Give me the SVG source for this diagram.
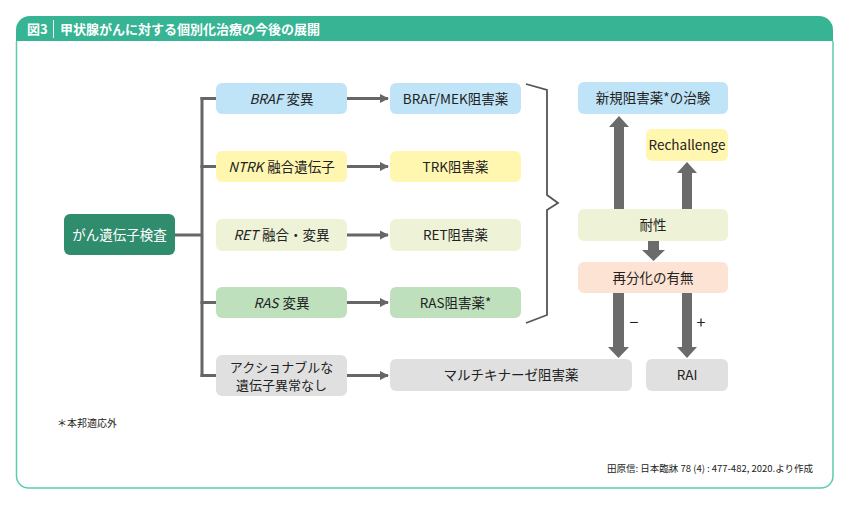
<svg xmlns="http://www.w3.org/2000/svg" width="850" height="505" viewBox="0 0 850 505">
<defs>
<style>
text{font-family:"Noto Sans CJK JP","Noto Sans",sans-serif;font-size:13.5px;fill:#222;}
.c{text-anchor:middle;}
.it{font-style:italic;}
.ln{stroke:#666;stroke-width:3;fill:none;}
.blk{fill:#6b6b6b;}
.sign{font-size:16px;}
</style>
<marker id="ah" viewBox="0 0 10 10" refX="9" refY="5" markerWidth="3" markerHeight="3.2" orient="auto" markerUnits="strokeWidth">
<path d="M0,0 L10,5 L0,10 z" fill="#666"/>
</marker>
</defs>
<rect width="850" height="505" fill="#fff"/>
<g id="frame">
<path d="M16.5,41 V476 A12,12 0 0 0 28.5,488 H821 A12,12 0 0 0 833,476 V41" fill="none" stroke="#5ccbb0" stroke-width="1.5"/>
<path d="M16,41 V30 A14,14 0 0 1 30,16 H819 A14,14 0 0 1 833,30 V41 Z" fill="#36b494"/>
<line x1="53.5" y1="20" x2="53.5" y2="38" stroke="#e8f7f2" stroke-width="1"/>
<text x="27" y="34" style="fill:#fff;font-weight:bold;font-size:13px">図3</text>
<text x="60" y="34" style="fill:#fff;font-weight:bold;font-size:13px">甲状腺がんに対する個別化治療の今後の展開</text>
</g>
<g id="connectors">
<line class="ln" x1="175" y1="235" x2="202" y2="235"/>
<line class="ln" x1="202" y1="97" x2="202" y2="377"/>
<line class="ln" x1="200.5" y1="98.5" x2="216" y2="98.5"/>
<line class="ln" x1="200.5" y1="166.5" x2="216" y2="166.5"/>
<line class="ln" x1="200.5" y1="302.5" x2="216" y2="302.5"/>
<line class="ln" x1="200.5" y1="375.5" x2="216" y2="375.5"/>
<line class="ln" x1="347" y1="98.5" x2="388" y2="98.5" marker-end="url(#ah)"/>
<line class="ln" x1="347" y1="166.5" x2="388" y2="166.5" marker-end="url(#ah)"/>
<line class="ln" x1="347" y1="235" x2="388" y2="235" marker-end="url(#ah)"/>
<line class="ln" x1="347" y1="302.5" x2="388" y2="302.5" marker-end="url(#ah)"/>
<line class="ln" x1="347" y1="375.5" x2="388" y2="375.5" marker-end="url(#ah)"/>
<path d="M526,84 L547,90 V195 L558,203 L547,210 V315 L526,323" fill="none" stroke="#555" stroke-width="1.8"/>
<path class="blk" d="M614,209 V127 H609 L619,116 L629,127 H624 V209 Z"/>
<path class="blk" d="M682,209 V173 H677 L687,162 L697,173 H692 V209 Z"/>
<path class="blk" d="M648,241 V250 H642 L653.5,261 L665,250 H659 V241 Z"/>
<path class="blk" d="M613,293 V347 H608 L618.5,358 L629,347 H624 V293 Z"/>
<path class="blk" d="M682,293 V347 H677 L687,358 L697,347 H692 V293 Z"/>
<text x="634" y="328" class="c sign">−</text>
<text x="701" y="328" class="c sign">+</text>
</g>
<g id="test">
<rect x="64" y="214" width="111" height="41" rx="6" fill="#2f8c6c"/>
<text x="119.5" y="239.5" class="c" style="fill:#fff">がん遺伝子検査</text>
</g>
<g id="braf">
<rect x="216" y="83" width="131" height="31" rx="6" fill="#bfe3f7"/>
<text x="281.5" y="103.5" class="c"><tspan class="it">BRAF</tspan><tspan dx="4">変異</tspan></text>
</g>
<g id="ntrk">
<rect x="216" y="151" width="131" height="31" rx="6" fill="#fff6b0"/>
<text x="281.5" y="171.5" class="c"><tspan class="it">NTRK</tspan><tspan dx="4">融合遺伝子</tspan></text>
</g>
<g id="ret">
<rect x="216" y="219" width="131" height="32" rx="6" fill="#eef3d8"/>
<text x="281.5" y="240" class="c"><tspan class="it">RET</tspan><tspan dx="4">融合・変異</tspan></text>
</g>
<g id="ras">
<rect x="216" y="287" width="131" height="31" rx="6" fill="#bfe0bd"/>
<text x="281.5" y="307.5" class="c"><tspan class="it">RAS</tspan><tspan dx="4">変異</tspan></text>
</g>
<g id="noact">
<rect x="216" y="355" width="131" height="41" rx="6" fill="#e0e0e0"/>
<text x="281.5" y="371.5" class="c" style="font-size:13px">アクショナブルな</text>
<text x="281.5" y="389.5" class="c" style="font-size:13px">遺伝子異常なし</text>
</g>
<g id="brafmek">
<rect x="390" y="83" width="131" height="31" rx="6" fill="#bfe3f7"/>
<text x="455.5" y="103.5" class="c">BRAF/MEK阻害薬</text>
</g>
<g id="trk">
<rect x="390" y="151" width="131" height="31" rx="6" fill="#fff6b0"/>
<text x="455.5" y="171.5" class="c">TRK阻害薬</text>
</g>
<g id="retinh">
<rect x="390" y="219" width="131" height="32" rx="6" fill="#eef3d8"/>
<text x="455.5" y="240" class="c">RET阻害薬</text>
</g>
<g id="rasinh">
<rect x="390" y="287" width="131" height="31" rx="6" fill="#bfe0bd"/>
<text x="455.5" y="307.5" class="c">RAS阻害薬*</text>
</g>
<g id="multi">
<rect x="390" y="359" width="242" height="32" rx="6" fill="#e0e0e0"/>
<text x="511" y="380" class="c">マルチキナーゼ阻害薬</text>
</g>
<g id="newtrial">
<rect x="578" y="82" width="150" height="32" rx="6" fill="#bfe3f7"/>
<text x="653" y="103" class="c">新規阻害薬*の治験</text>
</g>
<g id="rechallenge">
<rect x="646" y="129" width="82" height="32" rx="6" fill="#fff6b0"/>
<text x="687" y="150" class="c">Rechallenge</text>
</g>
<g id="resist">
<rect x="578" y="209" width="150" height="32" rx="6" fill="#eef3d8"/>
<text x="653" y="230" class="c">耐性</text>
</g>
<g id="redif">
<rect x="578" y="262" width="150" height="31" rx="6" fill="#fde3d3"/>
<text x="653" y="282.5" class="c">再分化の有無</text>
</g>
<g id="rai">
<rect x="646" y="359" width="82" height="32" rx="6" fill="#e0e0e0"/>
<text x="687" y="380" class="c">RAI</text>
</g>
<g id="notes">
<text x="57" y="427" style="font-size:10px">＊本邦適応外</text>
<text x="813" y="472" style="font-size:9.5px;text-anchor:end">田原信: 日本臨牀 78 (4) : 477-482, 2020.より作成</text>
</g>
</svg>
